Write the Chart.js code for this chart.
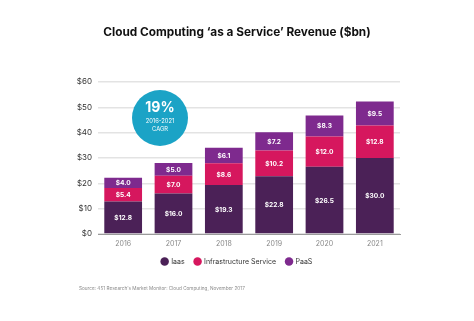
<!DOCTYPE html>
<html>
<head>
<meta charset="utf-8">
<script src="https://cdn.jsdelivr.net/npm/chart.js@4.4.0/dist/chart.umd.min.js"></script>
<style>
html,body{margin:0;padding:0;background:#fff;}
#wrap{width:474px;height:321px;position:relative;}
</style>
</head>
<body>
<div id="wrap"><canvas id="c" width="474" height="321"></canvas></div>
<script>
const categories = ['2016','2017','2018','2019','2020','2021'];
const iaas = [12.8, 16.0, 19.3, 22.8, 26.5, 30.0];
const infraService = [5.4, 7.0, 8.6, 10.2, 12.0, 12.8];
const paas = [4.0, 5.0, 6.1, 7.2, 8.3, 9.5];
const yTicks = ['$0','$10','$20','$30','$40','$50','$60'];
const seriesNames = ['Iaas','Infrastructure Service','PaaS'];
const titleText = 'Cloud Computing \u2018as a Service\u2019 Revenue ($bn)';
const sourceText = "Source: 451 Research's Market Monitor: Cloud Computing, November 2017";
const cagrText = ['19%','2016-2021','CAGR'];

const colors = ['#4b2157','#d6175e','#7e2a8e'];
const FONT = 'Inter, "Noto Sans", sans-serif';

const extras = {
  id:'extras',
  afterDraw(chart){
    const ctx = chart.ctx;
    ctx.save();
    // title
    ctx.fillStyle = '#111';
    ctx.font = 'bold 11.8px ' + FONT;
    ctx.textAlign = 'center';
    ctx.textBaseline = 'middle';
    ctx.fillText(titleText, 237, 32);
    // source
    ctx.fillStyle = '#8a8a8a';
    ctx.font = '4.7px ' + FONT;
    ctx.textAlign = 'left';
    ctx.fillText(sourceText, 79, 289);
    // data labels
    ctx.fillStyle = '#fff';
    ctx.font = 'bold 6.6px ' + FONT;
    ctx.textAlign = 'center';
    chart.data.datasets.forEach((ds, di) => {
      const meta = chart.getDatasetMeta(di);
      meta.data.forEach((bar, i) => {
        const v = ds.data[i];
        const cy = (bar.y + bar.base) / 2;
        ctx.fillText('$' + v.toFixed(1), bar.x, cy + 0.5);
      });
    });
    // CAGR circle
    ctx.fillStyle = '#1ba3c6';
    ctx.beginPath();
    ctx.arc(160, 118, 28, 0, Math.PI*2);
    ctx.fill();
    ctx.fillStyle = '#fff';
    ctx.font = 'bold 14px ' + FONT;
    ctx.fillText(cagrText[0], 160, 108);
    ctx.font = '5.8px ' + FONT;
    ctx.fillText(cagrText[1], 160, 121.5);
    ctx.fillText(cagrText[2], 160, 129.5);
    ctx.restore();
  }
};

new Chart(document.getElementById('c'), {
  type:'bar',
  data:{
    labels: categories,
    datasets:[
      {label:seriesNames[0], data:iaas, backgroundColor:colors[0]},
      {label:seriesNames[1], data:infraService, backgroundColor:colors[1]},
      {label:seriesNames[2], data:paas, backgroundColor:colors[2]}
    ]
  },
  options:{
    responsive:false,
    animation:false,
    devicePixelRatio:1,
    layout:{padding:{top:82, right:74, left:74, bottom:46}},
    datasets:{bar:{categoryPercentage:1, barPercentage:0.75, borderWidth:0}},
    scales:{
      x:{
        stacked:true,
        grid:{display:false, drawTicks:false},
        border:{display:true, color:'#9a9a9a', width:1},
        ticks:{color:'#888', font:{family:FONT, size:7}, padding:6},
        afterFit(s){ s.height = 14; }
      },
      y:{
        stacked:true,
        min:0, max:60,
        grid:{color:'#e3e3e3', lineWidth:1.5, drawTicks:false},
        border:{display:false},
        ticks:{stepSize:10, color:'#333', font:{family:FONT, size:8}, padding:6,
          callback(v, i){ return yTicks[i]; }},
        afterFit(s){ s.width = 24; }
      }
    },
    plugins:{
      title:{display:false},
      tooltip:{enabled:false},
      legend:{
        position:'bottom',
        labels:{usePointStyle:true, pointStyle:'circle', boxWidth:6, boxHeight:6,
          color:'#333', font:{family:FONT, size:7}, padding:10}
      }
    }
  },
  plugins:[extras]
});
</script>
</body>
</html>
